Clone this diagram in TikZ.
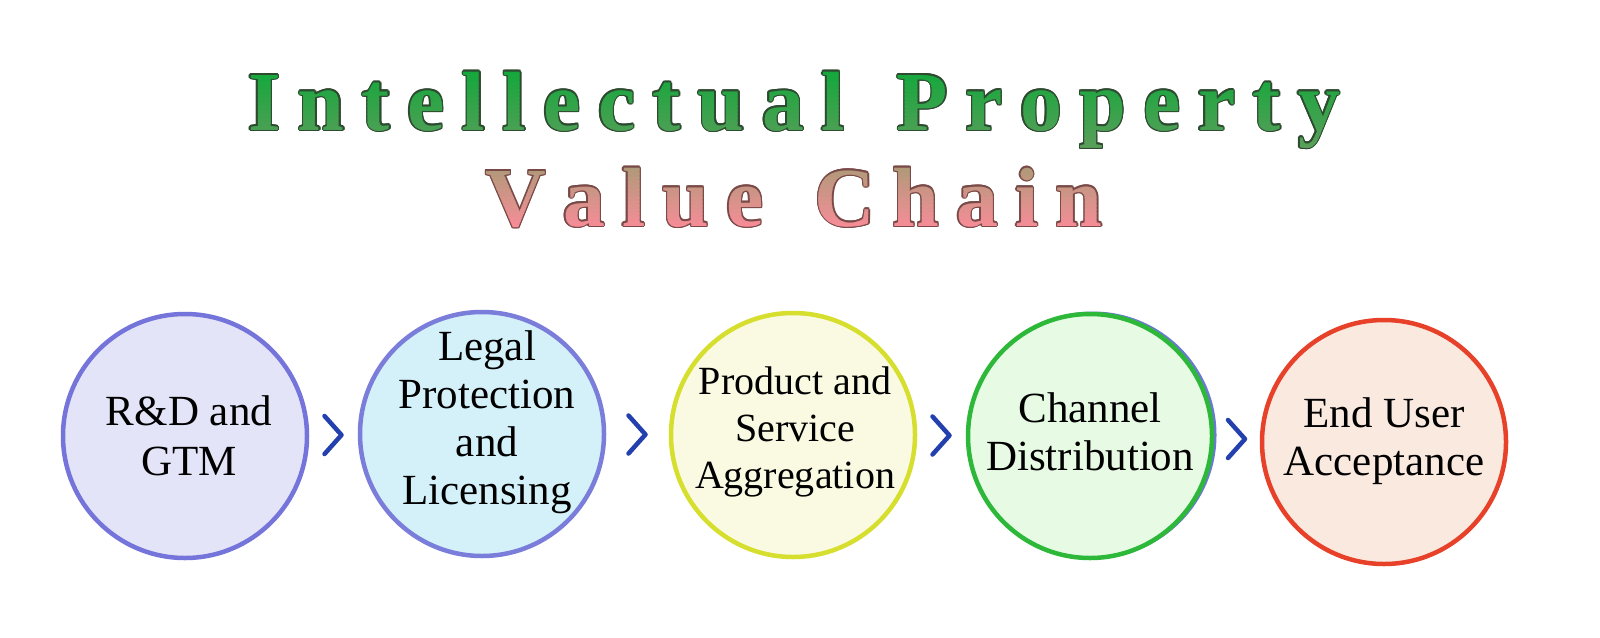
\documentclass[tikz,border=0pt]{standalone}
\usepackage{fontspec}
\setmainfont{Liberation Serif}
\usetikzlibrary{calc}
\definecolor{topA}{HTML}{14A83C}
\definecolor{botA}{HTML}{5A9E5A}
\definecolor{outA}{HTML}{2E4A30}
\definecolor{topB}{HTML}{AE9A78}
\definecolor{botB}{HTML}{F78C98}
\definecolor{outB}{HTML}{7A4A48}
\definecolor{fillA}{HTML}{E4E4F8}
\definecolor{drawA}{HTML}{7474DA}
\definecolor{fillB}{HTML}{D4F0F8}
\definecolor{drawB}{HTML}{7A7EDA}
\definecolor{fillC}{HTML}{FAFAE2}
\definecolor{drawC}{HTML}{D6DE2E}
\definecolor{fillD}{HTML}{E6FAE4}
\definecolor{drawD}{HTML}{2DB83A}
\definecolor{shadD}{HTML}{6A7AD0}
\definecolor{fillE}{HTML}{F9E9DF}
\definecolor{drawE}{HTML}{E8412A}
\definecolor{chev}{HTML}{2340AE}
\newcommand\lineA{\makebox[1092pt][s]{I\hfil n\hfil t\hfil e\hfil l\hfil l\hfil e\hfil c\hfil t\hfil u\hfil a\hfil l\hfil\hfil\hfil P\hfil r\hfil o\hfil p\hfil e\hfil r\hfil t\hfil y}}
\newcommand\lineB{\makebox[617pt][s]{V\hfil a\hfil l\hfil u\hfil e\hfil\hfil\hfil C\hfil h\hfil a\hfil i\hfil n}}
\tikzset{
  titletext/.style={inner sep=0pt, outer sep=0pt, anchor=base west, font=\bfseries\fontsize{84}{84}\selectfont},
  stepcircle/.style={circle, minimum size=244pt, inner sep=0pt, line width=4.5pt},
  steptext/.style={anchor=base, inner sep=0pt, font=\fontsize{43}{48}\selectfont},
  steptextsmall/.style={anchor=base, inner sep=0pt, font=\fontsize{40}{47}\selectfont},
  chevline/.style={draw=chev, line width=4.5pt, line cap=round, line join=round}
}
\begin{document}
\begin{tikzpicture}[x=1pt,y=-1pt]
\useasboundingbox (0,0) rectangle (1600,637);
\fill[white] (0,0) rectangle (1600,637);
% ---- title line 1
\coordinate (p1) at (248,130);
\foreach \a in {0,30,...,330}{
  \node[titletext, text=outA] (oa\a) at ($(p1)+(\a:1.4)$) {\lineA};}
\foreach \i in {0,...,19}{
  \pgfmathsetmacro\pct{100*\i/19}
  \begin{scope}
    \clip (0,{70+\i*4}) rectangle (1600,{70+(\i+1)*4+0.6});
    \node[titletext, text=botA!\pct!topA] (ba\i) at (p1) {\lineA};
  \end{scope}}
% ---- title line 2
\coordinate (p2) at (485.5,226);
\foreach \a in {0,30,...,330}{
  \node[titletext, text=outB] (ob\a) at ($(p2)+(\a:1.4)$) {\lineB};}
\foreach \i in {0,...,15}{
  \pgfmathsetmacro\pct{100*\i/15}
  \begin{scope}
    \clip (0,{165+\i*4}) rectangle (1600,{165+(\i+1)*4+0.6});
    \node[titletext, text=botB!\pct!topB] (bb\i) at (p2) {\lineB};
  \end{scope}}
% ---- circles
\node[stepcircle, fill=fillA, draw=drawA] (c1) at (185,436) {};
\node[stepcircle, fill=fillB, draw=drawB] (c2) at (482,434) {};
\node[stepcircle, fill=fillC, draw=drawC] (c3) at (793,435) {};
\draw[shadD, line width=3pt] (1093,435) circle[radius=122];
\node[stepcircle, fill=fillD, draw=drawD] (c4) at (1090,436) {};
\node[stepcircle, fill=fillE, draw=drawE] (c5) at (1384,442) {};
% ---- texts
\node[steptext] (t1a) at (189,425) {R\&D and};
\node[steptext] (t1b) at (189,475) {GTM};
\node[steptext] (t2a) at (487,360) {Legal};
\node[steptext] (t2b) at (487,408) {Protection};
\node[steptext] (t2c) at (487,456) {and};
\node[steptext] (t2d) at (487,504) {Licensing};
\node[steptextsmall] (t3a) at (795,394) {Product and};
\node[steptextsmall] (t3b) at (795,441) {Service};
\node[steptextsmall] (t3c) at (795,488) {Aggregation};
\node[steptext] (t4a) at (1090,422) {Channel};
\node[steptext] (t4b) at (1090,470) {Distribution};
\node[steptext] (t5a) at (1384,427) {End User};
\node[steptext] (t5b) at (1384,475) {Acceptance};
% ---- chevrons
\coordinate (m1) at ($(c1.east)!0.5!(c2.west)$);
\coordinate (m2) at ($(c2.east)!0.5!(c3.west)$);
\coordinate (m3) at ($(c3.east)!0.5!(c4.west)$);
\coordinate (m4) at ($(c4.east)!0.5!(c5.west)$);
\foreach \m in {m1,m2,m3,m4}{
  \draw[chevline] ($(\m)+(-9,-19)$) -- ($(\m)+(8,0)$) -- ($(\m)+(-9,19)$);}
\end{tikzpicture}
\end{document}
